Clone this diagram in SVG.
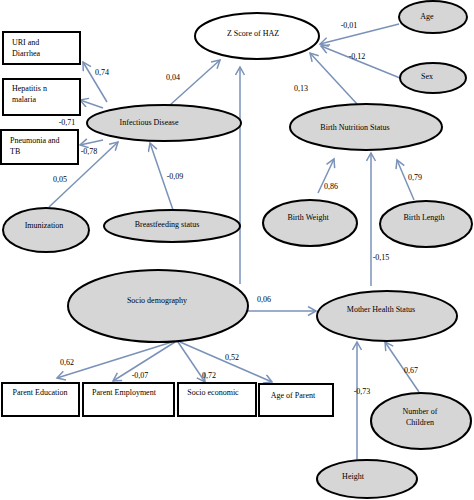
<svg xmlns="http://www.w3.org/2000/svg" width="474" height="500" viewBox="0 0 474 500">
<style>
.n{fill:#d6d6d6;stroke:#000;stroke-width:2}
.w{fill:#fff;stroke:#000;stroke-width:2}
.b{fill:#fff;stroke:#000;stroke-width:2}
text{font-family:"Liberation Serif","Times New Roman",serif;font-size:8px;fill:#000}
.c{text-anchor:middle}
.e{stroke:#7a92b8;stroke-width:1.5;fill:none;marker-end:url(#a)}
</style>
<defs>
<marker id="a" markerUnits="userSpaceOnUse" markerWidth="12" markerHeight="12" refX="9" refY="5" orient="auto">
<path d="M1,0.5 L9,5 L1,9.5" fill="none" stroke="#7a92b8" stroke-width="1.5"/>
</marker>
</defs>
<rect width="474" height="500" fill="#fff"/>
<g id="connectors">
<line class="e" x1="107" y1="102" x2="83" y2="62"/>
<line class="e" x1="103" y1="108" x2="80" y2="100"/>
<line class="e" x1="103" y1="140" x2="80" y2="145"/>
<line class="e" x1="170" y1="105" x2="220" y2="60"/>
<line class="e" x1="49" y1="207" x2="118" y2="142"/>
<line class="e" x1="173" y1="210" x2="150" y2="143"/>
<line class="e" x1="240" y1="284" x2="240" y2="67"/>
<line class="e" x1="248" y1="311" x2="316" y2="311"/>
<line class="e" x1="371" y1="286" x2="371" y2="153"/>
<line class="e" x1="318" y1="193" x2="334" y2="159"/>
<line class="e" x1="414" y1="200" x2="397" y2="160"/>
<line class="e" x1="399" y1="24" x2="320" y2="44"/>
<line class="e" x1="400" y1="78" x2="321" y2="46"/>
<line class="e" x1="357" y1="104" x2="310" y2="53"/>
<line class="e" x1="172" y1="342" x2="57" y2="378"/>
<line class="e" x1="175" y1="342" x2="113" y2="381"/>
<line class="e" x1="178" y1="342" x2="205" y2="382"/>
<line class="e" x1="180" y1="342" x2="272" y2="382"/>
<line class="e" x1="419" y1="392" x2="385" y2="342"/>
<line class="e" x1="357" y1="459" x2="357" y2="342"/>
</g>
<g id="labels">
<text class="c" x="102" y="75">0,74</text>
<text class="c" x="173" y="80">0,04</text>
<text class="c" x="67" y="125">-0,71</text>
<text class="c" x="89" y="154">-0,78</text>
<text class="c" x="60" y="182">0,05</text>
<text class="c" x="175" y="179">-0,09</text>
<text class="c" x="349" y="28">-0,01</text>
<text class="c" x="357" y="59">-0,12</text>
<text class="c" x="301" y="91">0,13</text>
<text class="c" x="331" y="189">0,86</text>
<text class="c" x="415" y="180">0,79</text>
<text class="c" x="381" y="260">-0,15</text>
<text class="c" x="264" y="302">0,06</text>
<text class="c" x="67" y="365">0,62</text>
<text class="c" x="140" y="378">-0,07</text>
<text class="c" x="209" y="378">0,72</text>
<text class="c" x="232" y="360">0,52</text>
<text class="c" x="411" y="373">0,67</text>
<text class="c" x="362" y="394">-0,73</text>
</g>
<g id="zscore"><ellipse class="w" cx="257" cy="36" rx="62" ry="23"/><text class="c" x="253" y="36">Z Score of HAZ</text></g>
<g id="age"><ellipse class="n" cx="433" cy="17" rx="34" ry="16"/><text class="c" x="427" y="19">Age</text></g>
<g id="sex"><ellipse class="n" cx="433" cy="78" rx="33" ry="15"/><text class="c" x="427" y="79">Sex</text></g>
<g id="uri"><rect class="b" x="3" y="32" width="77" height="32"/><text x="12" y="45">URI and</text><text x="12" y="56">Diarrhea</text></g>
<g id="hepatitis"><rect class="b" x="3" y="79" width="77" height="36"/><text x="12" y="91">Hepatitis n</text><text x="12" y="102">malaria</text></g>
<g id="pneumonia"><rect class="b" x="1" y="130" width="77" height="34"/><text x="10" y="143">Pneumonia and</text><text x="10" y="154">TB</text></g>
<g id="infectious"><ellipse class="n" cx="164" cy="123" rx="77" ry="18"/><text class="c" x="149" y="125">Infectious Disease</text></g>
<g id="bns"><ellipse class="n" cx="366" cy="127" rx="76" ry="23"/><text class="c" x="355" y="130">Birth Nutrition Status</text></g>
<g id="immunization"><ellipse class="n" cx="46" cy="230" rx="43" ry="22"/><text class="c" x="44" y="228">Imunization</text></g>
<g id="breastfeeding"><ellipse class="n" cx="172" cy="226" rx="68" ry="16"/><text class="c" x="167" y="227">Breastfeeding status</text></g>
<g id="birthweight"><ellipse class="n" cx="310" cy="223" rx="47" ry="23"/><text class="c" x="308" y="220">Birth Weight</text></g>
<g id="birthlength"><ellipse class="n" cx="426" cy="224" rx="46" ry="23"/><text class="c" x="424" y="220">Birth Length</text></g>
<g id="socio"><ellipse class="n" cx="158" cy="306" rx="90" ry="36"/><text class="c" x="157" y="303">Socio demography</text></g>
<g id="mother"><ellipse class="n" cx="387" cy="316" rx="70" ry="25"/><text class="c" x="381" y="312">Mother Health Status</text></g>
<g id="parentedu"><rect class="b" x="2" y="383" width="77" height="33"/><text class="c" x="40" y="395">Parent Education</text></g>
<g id="parentemp"><rect class="b" x="83" y="383" width="91" height="33"/><text class="c" x="124" y="395">Parent Employment</text></g>
<g id="socioeco"><rect class="b" x="178" y="383" width="78" height="33"/><text class="c" x="213" y="395">Socio economic</text></g>
<g id="ageparent"><rect class="b" x="259" y="384" width="74" height="32"/><text class="c" x="293" y="398">Age of Parent</text></g>
<g id="children"><ellipse class="n" cx="421" cy="421" rx="50" ry="28"/><text class="c" x="420" y="414">Number of</text><text class="c" x="420" y="425">Children</text></g>
<g id="height"><ellipse class="n" cx="367" cy="479" rx="50" ry="19"/><text class="c" x="353" y="479">Height</text></g>
</svg>
